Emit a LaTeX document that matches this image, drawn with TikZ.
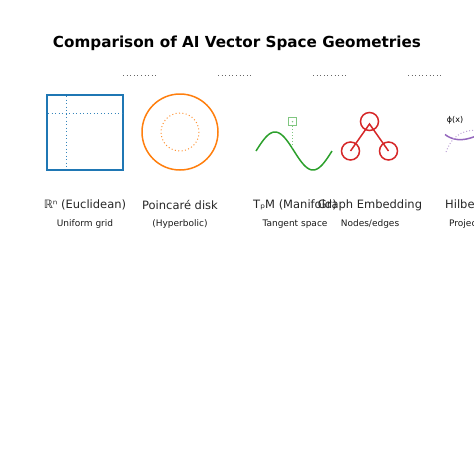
\documentclass[tikz,border=0pt]{standalone}
\usepackage{fontspec}
\setmainfont{DejaVu Sans}
\definecolor{cblue}{HTML}{1F77B4}
\definecolor{corange}{HTML}{FF7F0E}
\definecolor{cgreen}{HTML}{2CA02C}
\definecolor{cred}{HTML}{D62728}
\definecolor{cpurple}{HTML}{9467BD}
\begin{document}
\begin{tikzpicture}[x=1pt,y=-1pt,
  lab/.style={font=\fontsize{11.5}{13}\selectfont, text=black!85, inner sep=0pt},
  sublab/.style={font=\fontsize{9}{11}\selectfont, text=black!90, inner sep=0pt},
  sep/.style={black!60, line width=1pt, dash pattern=on 1pt off 2.6pt},
  gnode/.style={circle, draw=cred, line width=1.5pt, minimum size=18pt, inner sep=0pt}]
\useasboundingbox (0,0) rectangle (474,474);
\clip (0,0) rectangle (474,474);
% title
\node[font=\fontsize{15.2}{18}\selectfont\bfseries] (title) at (237,43.5) {Comparison of AI Vector Space Geometries};
% separators
\foreach \i/\x in {1/123,2/218,3/313,4/408}{
  \coordinate (s\i a) at (\x,75);
  \coordinate (s\i b) at (\x+36,75);
  \draw[sep] (s\i a) -- (s\i b);
}
% Euclidean
\draw[cblue, line width=1.5pt] (47,95) rectangle (123,170);
\draw[cblue!90, line width=1pt, dash pattern=on 1pt off 2.5pt] (66,96) -- (66,169);
\draw[cblue!90, line width=1pt, dash pattern=on 1pt off 2.5pt] (48,113) -- (122,113);
% Poincare
\coordinate (pc) at (180,132);
\draw[corange, line width=1.5pt] (pc) circle (38);
\draw[corange!85, line width=1pt, dash pattern=on 1pt off 2.4pt] (pc) circle (19);
% Manifold
\draw[cgreen, line width=1.5pt, domain=0:76, samples=80, smooth] plot ({256+\x},{151-19*sin(\x*4.7368)});
\node[draw=cgreen!60, line width=1pt, minimum size=8pt, inner sep=0pt] (tsq) at (292.5,121.7) {};
\fill[cgreen!60] (tsq.center) circle (0.8);
\coordinate (tpt) at (292.5,149);
\draw[cgreen!60, line width=1pt, dash pattern=on 1pt off 2pt] (tsq.south) -- (tpt);
% Graph
\node[gnode] (gt) at (369.5,121.5) {};
\node[gnode] (gl) at (350.5,151) {};
\node[gnode] (gr) at (388.5,151) {};
\draw[cred, line width=1.5pt] (gl.center) -- (369.5,124) -- (gr.center);
% Hilbert
\node[font=\fontsize{8}{9}\selectfont, inner sep=0pt] (phi) at (455,120) {ϕ(x)};
\draw[cpurple, line width=1.5pt] (445,134.5) .. controls (452,140) and (462,142) .. (476,136);
\draw[cpurple!60, line width=1pt, dash pattern=on 1pt off 2pt] (446,152) .. controls (450,142) and (456,130) .. (478,130);
% labels
\node[lab] (l1) at (85,205) {ℝⁿ (Euclidean)};
\node[sublab] (u1) at (85,224) {Uniform grid};
\node[lab] (l2) at (180,205) {Poincaré disk};
\node[sublab] (u2) at (180,224) {(Hyperbolic)};
\node[lab] (l3) at (295,205) {TₚM (Manifold)};
\node[sublab] (u3) at (295,224) {Tangent space};
\node[lab] (l4) at (370,205) {Graph Embedding};
\node[sublab] (u4) at (370,224) {Nodes/edges};
\node[lab, anchor=west] (l5) at (445,205) {Hilbert space};
\node[sublab, anchor=west] (u5) at (449,224) {Projection};
\end{tikzpicture}
\end{document}
